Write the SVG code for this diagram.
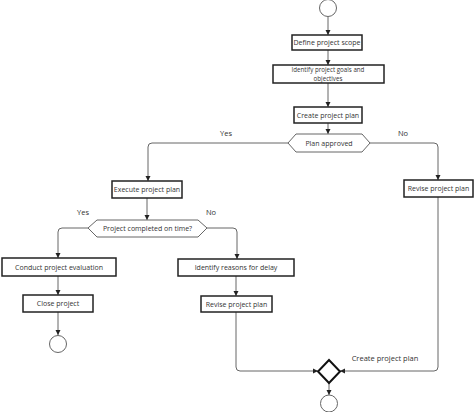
<svg xmlns="http://www.w3.org/2000/svg" width="474" height="412" viewBox="0 0 474 412">
<defs>
<marker id="ah" markerWidth="6" markerHeight="6" refX="5" refY="3" orient="auto" markerUnits="userSpaceOnUse">
<path d="M0,0.5 L5,3 L0,5.5 Z" fill="#222"/>
</marker>
<style>
.box{fill:#fff;stroke:#222;stroke-width:1.5}
.hex{fill:#fff;stroke:#666;stroke-width:1}
.circ{fill:#fff;stroke:#666;stroke-width:1}
.dia{fill:#fff;stroke:#111;stroke-width:2}
.t{font-family:"Open Sans","Liberation Sans",sans-serif;font-size:7px;fill:#333;text-anchor:middle;dominant-baseline:central}
.t2{font-family:"Open Sans","Liberation Sans",sans-serif;font-size:6.2px;fill:#333;text-anchor:middle;dominant-baseline:central}
.lbl{font-family:"Open Sans","Liberation Sans",sans-serif;font-size:7.5px;fill:#333;text-anchor:middle;dominant-baseline:central}
.c{fill:none;stroke:#666;stroke-width:1;marker-end:url(#ah)}
</style>
</defs>
<rect width="474" height="412" fill="#fff"/>
<g id="connectors">
<path class="c" d="M328,17 V35"/>
<path class="c" d="M328,50 V65"/>
<path class="c" d="M328,83 V107"/>
<path class="c" d="M328,123 V134"/>
<path class="c" d="M288,143 H152 Q148,143 148,147 V181"/>
<path class="c" d="M370,143 H434 Q438,143 438,147 V180"/>
<path class="c" d="M147,198 V220"/>
<path class="c" d="M88,228 H62 Q58,228 58,232 V258"/>
<path class="c" d="M207,228 H233 Q237,228 237,232 V259"/>
<path class="c" d="M58,276 V295"/>
<path class="c" d="M58,312 V335"/>
<path class="c" d="M236,276 V296"/>
<path class="c" d="M236,312 V367 Q236,371 240,371 H318"/>
<path class="c" d="M438,197 V367 Q438,371 434,371 H340"/>
<path class="c" d="M329,383 V395"/>
</g>
<g id="start"><circle class="circ" cx="328" cy="8" r="8.5"/></g>
<g id="define"><rect class="box" x="292" y="35" width="70" height="15"/><text class="t" x="327" y="42.5">Define project scope</text></g>
<g id="goals"><rect class="box" x="273" y="65" width="111" height="18"/><text class="t2" x="328" y="69.5">Identify project goals and</text><text class="t2" x="328" y="78.5">objectives</text></g>
<g id="create"><rect class="box" x="294" y="107" width="68" height="16"/><text class="t" x="328" y="115">Create project plan</text></g>
<g id="approved"><polygon class="hex" points="288,143 296,134 362,134 370,143 362,152 296,152"/><text class="t" x="329" y="143">Plan approved</text></g>
<text class="lbl" x="226" y="133">Yes</text>
<text class="lbl" x="403" y="133">No</text>
<g id="execute"><rect class="box" x="112" y="181" width="70" height="17"/><text class="t" x="147" y="189.5">Execute project plan</text></g>
<g id="revise1"><rect class="box" x="404" y="180" width="69" height="17"/><text class="t" x="438.5" y="188.5">Revise project plan</text></g>
<g id="ontime"><polygon class="hex" points="88,228 97,220 198,220 207,228 198,237 97,237"/><text class="t" x="147.5" y="228.5">Project completed on time?</text></g>
<text class="lbl" x="83" y="212">Yes</text>
<text class="lbl" x="211" y="212">No</text>
<g id="evaluation"><rect class="box" x="2" y="258" width="114" height="18"/><text class="t" x="59" y="267">Conduct project evaluation</text></g>
<g id="reasons"><rect class="box" x="178" y="259" width="116" height="17"/><text class="t" x="236" y="267.5">Identify reasons for delay</text></g>
<g id="close"><rect class="box" x="23" y="295" width="70" height="17"/><text class="t" x="58" y="303.5">Close project</text></g>
<g id="revise2"><rect class="box" x="201" y="296" width="71" height="16"/><text class="t" x="236.5" y="304">Revise project plan</text></g>
<g id="end1"><circle class="circ" cx="58" cy="344" r="8.5"/></g>
<g id="merge"><polygon class="dia" points="329,360 340,371.5 329,383 318,371.5"/></g>
<text class="lbl" x="385" y="358">Create project plan</text>
<g id="end2"><circle class="circ" cx="329" cy="403.5" r="8.5"/></g>
</svg>
